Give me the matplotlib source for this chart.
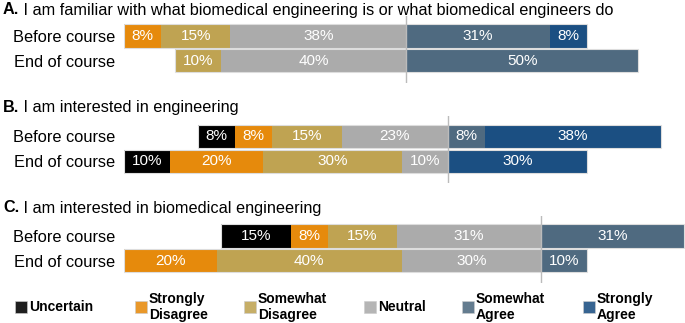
import matplotlib
matplotlib.use("Agg")
import matplotlib.pyplot as plt
from matplotlib.patches import Rectangle

plt.rcParams['font.family'] = ['Liberation Sans', 'DejaVu Sans']

categories = ["Uncertain", "Strongly\nDisagree", "Somewhat\nDisagree", "Neutral",
              "Somewhat\nAgree", "Strongly\nAgree"]
colors = ["#000000", "#E68A0C", "#BFA352", "#ABABAB", "#4F6A80", "#1B4F82"]
rows = ["Before course", "End of course"]

titles_letter = ["A.", "B.", "C."]
titles_text = [" I am familiar with what biomedical engineering is or what biomedical engineers do",
               " I am interested in engineering",
               " I am interested in biomedical engineering"]

a_before = [0, 8, 15, 38, 31, 8]
a_end = [0, 0, 10, 40, 50, 0]
b_before = [8, 8, 15, 23, 8, 38]
b_end = [10, 20, 30, 10, 0, 30]
c_before = [15, 8, 15, 31, 31, 0]
c_end = [0, 20, 40, 30, 10, 0]

panels = [(a_before, a_end), (b_before, b_end), (c_before, c_end)]

W, H = 685, 323
fig = plt.figure(figsize=(W / 100, H / 100), dpi=100)

def add_px_axes(x0, y0, w, h):
    return fig.add_axes([x0 / W, 1 - (y0 + h) / H, w / W, h / H])

S = 4.63           # pixels per percent
AX_L = 124
AX_W = W - AX_L
P = 24.8           # pixel pitch between rows
centers = [36, 136.4, 236]
title_y = [10, 107.5, 208]
n_left = 4

for pi, (before, end) in enumerate(panels):
    yc = centers[pi]
    top = yc - 20
    bot = yc + P + 22
    ax = add_px_axes(AX_L, top, AX_W, bot - top)
    maxleft = max(sum(before[:n_left]), sum(end[:n_left]))
    ax.set_xlim(-maxleft, -maxleft + AX_W / S)
    ax.set_ylim(1 + 22 / P, -20 / P)
    for ri, vals in enumerate([before, end]):
        left = -sum(vals[:n_left])
        start = left
        for ci, v in enumerate(vals):
            if v > 0:
                ax.barh(ri, v, left=start, height=0.94, color=colors[ci],
                        edgecolor='none', zorder=2)
                ax.text(start + v / 2, ri, f"{v}%", ha='center', va='center',
                        color='white', fontsize=11,
                        family=['Liberation Sans Narrow', 'Liberation Sans', 'DejaVu Sans'],
                        zorder=4)
            start += v
        ax.barh(ri, sum(vals), left=left, height=0.94, fill=False,
                edgecolor='#DDDDDD', linewidth=0.8, zorder=3)
    ax.axvline(0, color='#BBBBBB', linewidth=1.0, zorder=5)
    ax.set_yticks([0, 1])
    ax.set_yticklabels(rows, fontsize=11.8)
    ax.tick_params(axis='y', length=0, pad=6.5)
    ax.set_xticks([])
    for sp in ax.spines.values():
        sp.set_visible(False)
    ax.patch.set_alpha(0)

    t1 = fig.text(3 / W, 1 - title_y[pi] / H, titles_letter[pi], fontsize=11.7,
                  fontweight='bold', va='center', ha='left')
    plt.annotate(titles_text[pi], xy=(1, 0.5), xycoords=t1, va='center',
                 ha='left', fontsize=11.7, annotation_clip=False)

# legend
leg_x = [15, 135, 244, 364, 462, 583]
sq = 12
leg_yc = 307
for i, lab in enumerate(categories):
    x0 = leg_x[i]
    fig.patches.append(Rectangle((x0 / W, 1 - (leg_yc + sq / 2) / H), sq / W, sq / H,
                                 transform=fig.transFigure, facecolor=colors[i],
                                 alpha=0.88, edgecolor='#CCCCCC', linewidth=0.5))
    fig.text((x0 + 14) / W, 1 - leg_yc / H, lab, fontsize=10, fontweight='bold',
             va='center', ha='left', linespacing=1.2)

fig.savefig("out.png", dpi=100)
